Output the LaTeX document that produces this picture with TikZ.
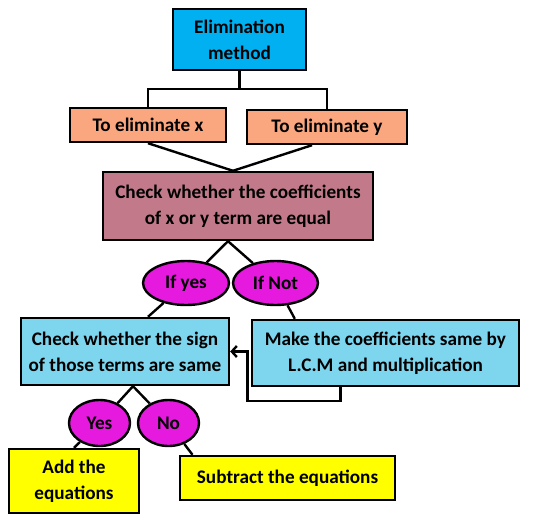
\documentclass[tikz,border=0pt]{standalone}
\usepackage{fontspec}
\setmainfont{Carlito}
\usepackage{tikz}
\usetikzlibrary{arrows.meta}
\usetikzlibrary{shapes.geometric}

\definecolor{elimblue}{RGB}{0,176,240}
\definecolor{salmon}{RGB}{250,166,126}
\definecolor{rosy}{RGB}{194,122,138}
\definecolor{lightcyan}{RGB}{125,214,238}
\definecolor{magent}{RGB}{230,26,222}
\definecolor{yell}{RGB}{255,255,0}

\begin{document}
\begin{tikzpicture}[x=1pt,y=1pt,>={Straight Barb[length=5pt,width=11pt]},line width=2.4pt,
	box/.style={draw,rectangle,align=center,inner sep=0pt,font=\fontsize{19.2}{26}\selectfont\bfseries},
	oval/.style={draw,ellipse,inner sep=0pt,fill=magent,font=\fontsize{19.2}{26}\selectfont\bfseries}]
	\useasboundingbox (0,0) rectangle (538,-520);
	% boxes
	\node[box,fill=elimblue,minimum width=133,minimum height=61](elim) at (239.5,-39.5){Elimination\\method};
	\node[box,fill=salmon,minimum width=156,minimum height=34](elimx) at (148,-125){To eliminate x};
	\node[box,fill=salmon,minimum width=160,minimum height=34](elimy) at (327,-127){To eliminate y};
	\node[box,fill=rosy,minimum width=270,minimum height=68](coef) at (238,-206){Check whether the coefficients\\of x or y term are equal};
	\node[oval,minimum width=86,minimum height=44](ifyes) at (186,-283){If yes};
	\node[oval,minimum width=85,minimum height=44](ifnot) at (275.5,-283){If Not};
	\node[box,fill=lightcyan,minimum width=208,minimum height=67](sign) at (125,-351.5){Check whether the sign\\of those terms are same};
	\node[box,fill=lightcyan,minimum width=267,minimum height=66](lcm) at (385.5,-353){Make the coefficients same by\\L.C.M and multiplication};
	\node[oval,minimum width=61,minimum height=46](yes) at (99.5,-423){Yes};
	\node[oval,minimum width=61,minimum height=46](no) at (168.5,-423){No};
	\node[box,fill=yell,minimum width=130,minimum height=64](add) at (74,-481){Add the\\equations};
	\node[box,fill=yell,minimum width=215,minimum height=44](sub) at (287.5,-478){Subtract the equations};
	% connectors
	\draw (elim.south)--++(0,-18)coordinate(fork);
	\draw (elimx.north)|-(fork)-|(elimy.north);
	\draw (elimx.south)--([xshift=-5]coef.north);
	\draw ([xshift=-15]elimy.south)--([xshift=-5]coef.north);
	\draw ([xshift=-10]coef.south)--(ifyes);
	\draw ([xshift=-10]coef.south)--(ifnot);
	\draw (ifyes)--([xshift=23]sign.north);
	\draw (ifnot)--([xshift=44]lcm.north west);
	\draw[->] ([xshift=-45]lcm.south)--++(0,-14)--++(-93,0)|-(sign.east);
	\draw ([xshift=8]sign.south)--(yes);
	\draw ([xshift=8]sign.south)--(no);
	\draw (yes)--(add.north);
	\draw (no)--([xshift=-95]sub.north);
\end{tikzpicture}
\end{document}
